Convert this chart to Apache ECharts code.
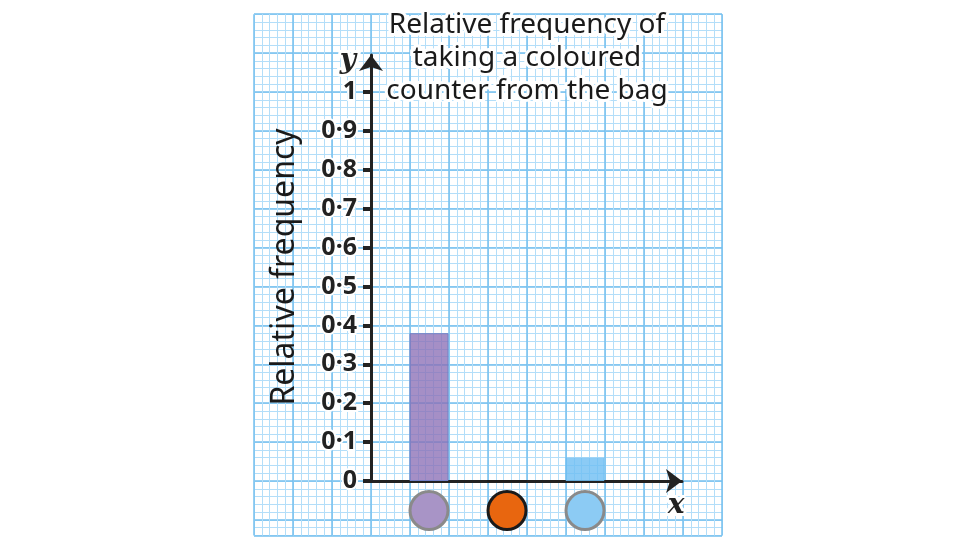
<!DOCTYPE html>
<html>
<head>
<meta charset="utf-8">
<script src="https://cdn.jsdelivr.net/npm/echarts@6/dist/echarts.min.js"></script>
<style>
  html, body { margin: 0; padding: 0; background: #fff; }
  #main { width: 976px; height: 549px; }
</style>
</head>
<body>
<div id="main"></div>
<script>
var categories = ['Purple', 'Orange', 'Blue']
var relFreq = [0.38, 0, 0.06]
var yTicks = [0, 0.1, 0.2, 0.3, 0.4, 0.5, 0.6, 0.7, 0.8, 0.9, 1]
var titleLines = ['Relative frequency of', 'taking a coloured', 'counter from the bag']

// colours for each counter
var counterStyle = {
  Purple: { fill: '#a894c6', border: '#8a8a8a', bar: 'rgba(140,112,182,0.78)', barBorder: '#7380c6' },
  Orange: { fill: '#e8660f', border: '#1a1a1a', bar: '#e8660f', barBorder: '#1a1a1a' },
  Blue: { fill: '#8ccbf4', border: '#8a8a8a', bar: 'rgba(110,190,242,0.8)', barBorder: 'rgba(110,190,242,0.8)' }
}

var ink = '#222'
var font = 'Noto Sans'
var yTop = 1.095

function tickText(v) {
  if (v === 0) return '0'
  if (v === 1) return '1'
  return v.toFixed(1).replace('.', '·')
}

var rich = {}
categories.forEach(function (c) {
  rich[c] = {
    width: 35, height: 35, borderRadius: 20,
    backgroundColor: counterStyle[c].fill,
    borderColor: counterStyle[c].border,
    borderWidth: 3
  }
})

function paperLines(color, width) {
  return { show: true, lineStyle: { color: color, width: width } }
}
var hidden = { axisLine: { show: false }, axisTick: { show: false }, axisLabel: { show: false } }

// text with a white halo: a white copy underneath, the real text on top
function haloText(x, y, style) {
  var under = Object.assign({}, style, { fill: '#fff', stroke: '#fff', lineWidth: 6 })
  return [
    { type: 'text', x: x, y: y, z: 10, silent: true, style: under },
    { type: 'text', x: x, y: y, z: 11, silent: true, style: style }
  ]
}

var serifLetter = {
  fontFamily: 'DejaVu Serif', fontStyle: 'italic', fontWeight: 'bold', fontSize: 28,
  textAlign: 'center', textVerticalAlign: 'middle', fill: ink
}

var chart = echarts.init(document.getElementById('main'))
chart.setOption({
  animation: false,
  backgroundColor: '#fff',
  grid: [
    // graph paper
    { left: 254, right: 254, top: 14.2, bottom: 13.5 },
    // axes
    { left: 371, right: 294, top: 481 - 389 * yTop, bottom: 68 },
    // bars
    { left: 390, right: 352, top: 481 - 389 * yTop, bottom: 68 }
  ],
  xAxis: [
    Object.assign({ type: 'value', gridIndex: 0, min: 0, max: 60, interval: 1, splitLine: paperLines('#b3def9', 1) }, hidden),
    Object.assign({ type: 'value', gridIndex: 0, min: 0, max: 12, interval: 1, splitLine: paperLines('#74bfee', 1.5) }, hidden),
    {
      type: 'value', gridIndex: 1, min: 0, max: 1,
      splitLine: { show: false }, axisTick: { show: false }, axisLabel: { show: false },
      axisLine: { show: true, symbol: ['none', 'arrow'], symbolSize: [18, 16], lineStyle: { color: ink, width: 3 } }
    },
    {
      type: 'category', gridIndex: 2, data: categories,
      axisLine: { show: false }, axisTick: { show: false }, splitLine: { show: false },
      axisLabel: {
        margin: 12,
        formatter: function (v) { return '{' + v + '|}' },
        rich: rich
      }
    }
  ],
  yAxis: [
    Object.assign({ type: 'value', gridIndex: 0, min: -7, max: 60, interval: 1, splitLine: paperLines('#b3def9', 1) }, hidden),
    Object.assign({ type: 'value', gridIndex: 0, inverse: true, min: -12, max: 1.4, interval: 1, splitLine: paperLines('#74bfee', 1.5) }, hidden),
    {
      type: 'value', gridIndex: 1, min: 0, max: yTop,
      splitLine: { show: false },
      axisLine: { show: true, symbol: ['none', 'arrow'], symbolSize: [18, 16], lineStyle: { color: ink, width: 3 } },
      axisTick: { show: true, inside: false, length: 8, customValues: yTicks, lineStyle: { color: ink, width: 4 } },
      axisLabel: {
        customValues: yTicks, margin: 14, formatter: tickText,
        color: ink, fontFamily: font, fontWeight: 'bold', fontSize: 25,
        textBorderColor: '#fff', textBorderWidth: 4
      }
    },
    Object.assign({ type: 'value', gridIndex: 2, min: 0, max: yTop, splitLine: { show: false } }, hidden)
  ],
  series: [
    {
      type: 'bar', xAxisIndex: 3, yAxisIndex: 3, barWidth: 39,
      data: relFreq.map(function (v, i) {
        var s = counterStyle[categories[i]]
        return { value: v, itemStyle: { color: s.bar, borderColor: s.barBorder, borderWidth: 1 } }
      })
    }
  ],
  graphic: [].concat(
    haloText(527, 9, {
      text: titleLines.join('\n'), fontFamily: font, fontSize: 28, lineHeight: 33,
      textAlign: 'center', fill: '#1a1a1a'
    }),
    haloText(348, 61, Object.assign({ text: 'y' }, serifLetter)),
    haloText(676, 506, Object.assign({ text: 'x' }, serifLetter)),
    [{
      type: 'text', x: 285, y: 267, rotation: Math.PI / 2, z: 11,
      style: {
        text: 'Relative frequency', fontFamily: font, fontSize: 32,
        textAlign: 'center', textVerticalAlign: 'middle', fill: '#1a1a1a'
      }
    }]
  )
})
</script>
</body>
</html>
